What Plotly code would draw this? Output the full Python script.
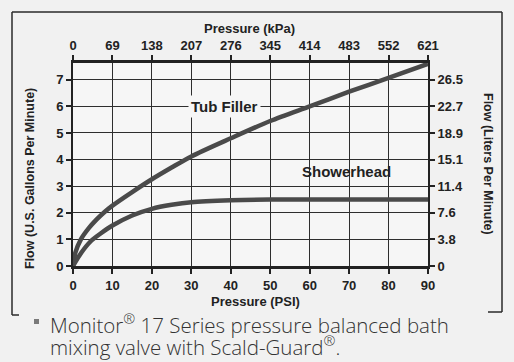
import plotly.graph_objects as go

# ---- data ----
psi_ticks = [0, 10, 20, 30, 40, 50, 60, 70, 80, 90]
kpa_labels = ["0", "69", "138", "207", "276", "345", "414", "483", "552", "621"]
gpm_ticks = [0, 1, 2, 3, 4, 5, 6, 7]
lpm_labels = ["0", "3.8", "7.6", "11.4", "15.1", "18.9", "22.7", "26.5"]

tub_psi = [0, 0.6, 2, 4, 6, 8, 10, 15, 20, 25, 30, 40, 50, 60, 70, 80, 90]
tub_gpm = [0, 0.5, 1.0, 1.42, 1.75, 2.03, 2.27, 2.78, 3.26, 3.7, 4.12, 4.8, 5.45, 6.0, 6.55, 7.07, 7.6]

shower_psi = [0, 2.1, 4.5, 7, 10, 15, 20, 25, 30, 40, 50, 60, 70, 80, 90]
shower_gpm = [0, 0.5, 0.93, 1.22, 1.52, 1.9, 2.15, 2.3, 2.4, 2.47, 2.5, 2.5, 2.5, 2.5, 2.5]

Y_MAX = 7.63
BOLD = "Liberation Sans"
INK = "#222222"
CURVE = "#4a4a4a"

fig = go.Figure()
fig.add_trace(go.Scatter(x=tub_psi, y=tub_gpm, mode="lines",
                         line=dict(color=CURVE, width=4.5, shape="spline", smoothing=0.8),
                         showlegend=False, hoverinfo="skip"))
fig.add_trace(go.Scatter(x=shower_psi, y=shower_gpm, mode="lines",
                         line=dict(color=CURVE, width=4.5, shape="spline", smoothing=0.8),
                         showlegend=False, hoverinfo="skip"))
# invisible trace on secondary axes so they render
fig.add_trace(go.Scatter(x=[0], y=[0], xaxis="x2", yaxis="y2", mode="markers",
                         marker=dict(opacity=0), showlegend=False, hoverinfo="skip"))

tickfont = dict(family=BOLD, size=13, color=INK, weight="bold")
axis_common = dict(zeroline=False, automargin=False,
                   ticks="outside", ticklen=5, tickwidth=1.5, tickcolor=INK,
                   tickfont=tickfont, showline=True, linecolor=INK)
grid = dict(showgrid=True, gridcolor="#2e2e2e", gridwidth=1.3)

fig.update_layout(
    width=514, height=362,
    autosize=False,
    margin=dict(l=73, r=86, t=63, b=96, autoexpand=False),
    paper_bgcolor="#f1f1f1",
    plot_bgcolor="#f6f6f6",
    xaxis=dict(range=[0, 90], tickvals=psi_ticks, linewidth=3, **grid, **axis_common),
    xaxis2=dict(range=[0, 90], tickvals=psi_ticks, ticktext=kpa_labels, overlaying="x", side="top",
                anchor="y", linewidth=3, showgrid=False, **axis_common),
    yaxis=dict(range=[0, Y_MAX], tickvals=gpm_ticks, linewidth=2, **grid, **axis_common),
    yaxis2=dict(range=[0, Y_MAX], tickvals=gpm_ticks, ticktext=lpm_labels, overlaying="y", side="right",
                anchor="x", linewidth=2, showgrid=False, **axis_common),
)

def px(xp):
    return (xp - 73) / 355

def py(yp):
    return (266 - yp) / 203

def ann(text, x, y, size=13, angle=0, bg=None, font=BOLD, weight="bold", color=INK, xanchor="center"):
    fig.add_annotation(text=text, x=x, y=y, xref="paper", yref="paper", showarrow=False,
                       textangle=angle, xanchor=xanchor, yanchor="middle",
                       font=dict(family=font, size=size, color=color, weight=weight),
                       bgcolor=bg, borderpad=0)

ann("Pressure (kPa)", px(249), py(28), size=13)
ann("Pressure (PSI)", px(255), py(301), size=13)
ann("Flow (U.S. Gallons Per Minute)", px(30), py(179), size=12.5, angle=-90)
ann("Flow (Liters Per Minute)", px(488), py(164), size=12.5, angle=90)

# curve labels (data coords)
fig.add_annotation(text="Tub Filler", x=38.5, y=6, showarrow=False, bgcolor="#f6f6f6",
                   font=dict(family=BOLD, size=15, color=INK, weight="bold"), borderpad=2)
fig.add_annotation(text="Showerhead", x=69.3, y=3.57, showarrow=False,
                   font=dict(family=BOLD, size=15, color=INK, weight="bold"))

# caption
cap_font = "Open Sans"
ann("Monitor<sup>®</sup> 17 Series pressure balanced bath", px(49), py(324),
    size=20.5, font=cap_font, weight=300, color="#333333", xanchor="left")
ann("mixing valve with Scald-Guard<sup>®</sup>.", px(49), py(346),
    size=20.5, font=cap_font, weight=300, color="#333333", xanchor="left")

# bullet square
fig.add_shape(type="rect", xref="paper", yref="paper", x0=px(34), x1=px(39), y0=py(324), y1=py(319),
              fillcolor="#7a7a7a", line=dict(width=0))

# outer frame
frame = dict(color="#2a2a2a", width=1.5)
fig.add_shape(type="line", xref="paper", yref="paper", x0=px(12), x1=px(502), y0=py(12), y1=py(12), line=frame)
fig.add_shape(type="line", xref="paper", yref="paper", x0=px(12), x1=px(12), y0=py(12), y1=py(315), line=frame)
fig.add_shape(type="line", xref="paper", yref="paper", x0=px(502), x1=px(502), y0=py(12), y1=py(312), line=frame)
fig.add_shape(type="line", xref="paper", yref="paper", x0=px(12), x1=px(19), y0=py(315), y1=py(315), line=frame)
fig.add_shape(type="line", xref="paper", yref="paper", x0=px(488), x1=px(502), y0=py(312), y1=py(312), line=frame)

fig.write_html("out.html", config={"displayModeBar": False},
               post_script="document.body.style.margin='0';document.body.style.overflow='hidden';")
